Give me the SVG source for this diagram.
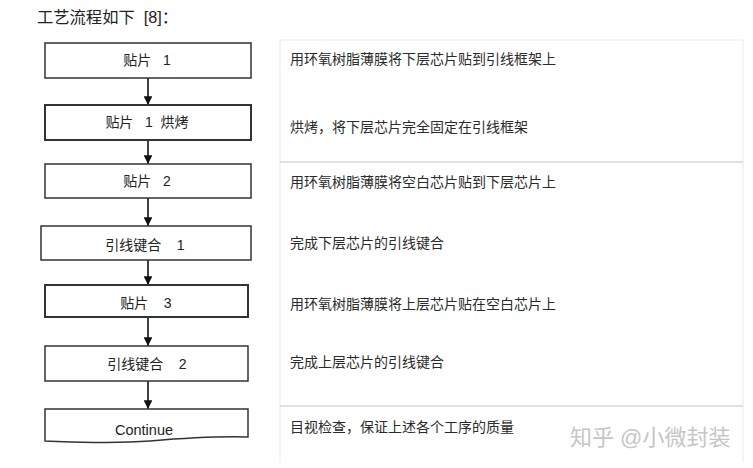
<svg xmlns="http://www.w3.org/2000/svg" width="753" height="468" viewBox="0 0 753 468" xml:space="preserve">
<defs>
<style>
text{font-family:"Liberation Sans","Noto Sans CJK SC",sans-serif;white-space:pre;}
.box{fill:#fff;stroke:#333;stroke-width:1.5;}
.thick{stroke-width:2;}
.lbl{font-size:14px;fill:#222;text-anchor:middle;}
.desc{font-size:14px;fill:#2a2a2a;}
.conn{stroke:#111;stroke-width:1.6;fill:none;}
.faint{stroke:#ebebeb;stroke-width:1;}
.sep{stroke:#c4c4c4;stroke-width:1.2;}
</style>
<marker id="ah" viewBox="0 0 10 10" refX="10" refY="5" markerWidth="5.5" markerHeight="5.5" orient="auto" markerUnits="strokeWidth">
<path d="M0,0 L10,5 L0,10 Z" fill="#111"/>
</marker>
</defs>
<rect width="753" height="468" fill="#fff"/>
<text x="37" y="23" font-size="16.3" fill="#222">工艺流程如下  [8]：</text>

<g id="panel">
<line class="faint" x1="280" y1="40" x2="743" y2="40"/>
<line class="faint" x1="280" y1="40" x2="280" y2="462"/>
<line class="faint" x1="743" y1="40" x2="743" y2="462"/>
<line class="sep" x1="280" y1="162" x2="743" y2="162"/>
<line class="sep" x1="280" y1="406" x2="743" y2="406"/>
</g>

<g id="connectors">
<line class="conn" x1="148" y1="78" x2="148" y2="105" marker-end="url(#ah)"/>
<line class="conn" x1="148" y1="140" x2="148" y2="164" marker-end="url(#ah)"/>
<line class="conn" x1="148" y1="198" x2="148" y2="226" marker-end="url(#ah)"/>
<line class="conn" x1="148" y1="260" x2="148" y2="285" marker-end="url(#ah)"/>
<line class="conn" x1="148" y1="317" x2="148" y2="346" marker-end="url(#ah)"/>
<line class="conn" x1="148" y1="381" x2="148" y2="409" marker-end="url(#ah)"/>
</g>

<g id="n1"><rect class="box" x="45" y="43" width="206" height="35"/><text class="lbl" x="147" y="65">贴片   1</text></g>
<g id="n2"><rect class="box thick" x="45" y="105" width="206" height="35"/><text class="lbl" x="147" y="127">贴片   1  烘烤</text></g>
<g id="n3"><rect class="box" x="45" y="164" width="206" height="34"/><text class="lbl" x="147" y="186">贴片   2</text></g>
<g id="n4"><rect class="box" x="41" y="226" width="210" height="34"/><text class="lbl" x="145" y="250">引线键合    1</text></g>
<g id="n5"><rect class="box thick" x="45" y="285" width="203" height="32"/><text class="lbl" x="146" y="308">贴片    3</text></g>
<g id="n6"><rect class="box" x="45" y="346" width="203" height="35"/><text class="lbl" x="147" y="369">引线键合    2</text></g>
<g id="n7"><path class="box" d="M45,409 H248 V437 C215,436 185,438 150,441 C110,444 75,442 45,441 Z"/><text class="lbl" x="144" y="435" style="font-size:14.5px">Continue</text></g>

<g id="d1"><text class="desc" x="290" y="64">用环氧树脂薄膜将下层芯片贴到引线框架上</text></g>
<g id="d2"><text class="desc" x="290" y="132">烘烤，将下层芯片完全固定在引线框架</text></g>
<g id="d3"><text class="desc" x="290" y="187">用环氧树脂薄膜将空白芯片贴到下层芯片上</text></g>
<g id="d4"><text class="desc" x="290" y="248">完成下层芯片的引线键合</text></g>
<g id="d5"><text class="desc" x="290" y="309">用环氧树脂薄膜将上层芯片贴在空白芯片上</text></g>
<g id="d6"><text class="desc" x="290" y="367">完成上层芯片的引线键合</text></g>
<g id="d7"><text class="desc" x="290" y="432">目视检查，保证上述各个工序的质量</text></g>

<text x="570" y="445" font-size="22" fill="#c6c6c6">知乎 @小微封装</text>
</svg>
